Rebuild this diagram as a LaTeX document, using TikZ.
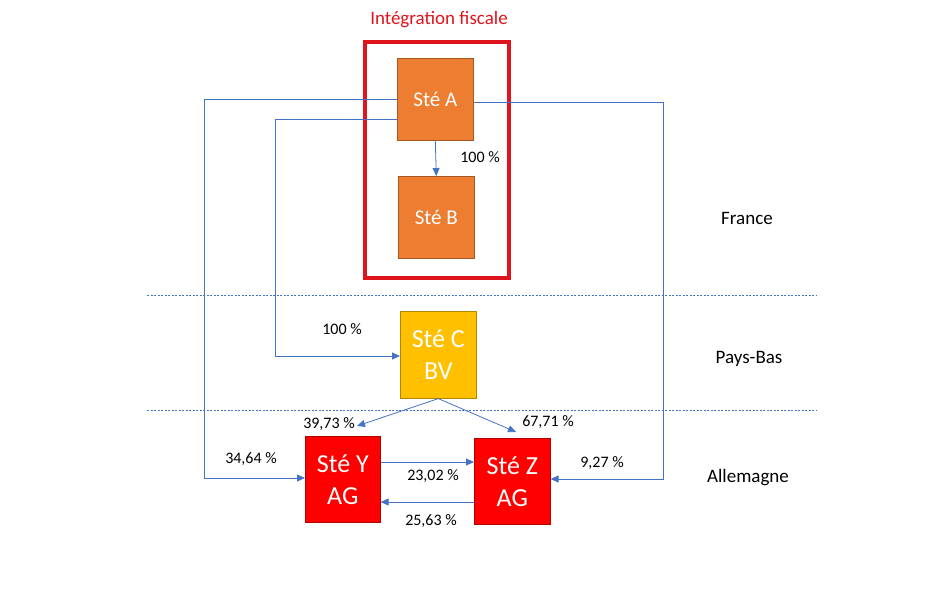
\documentclass[tikz,border=0pt]{standalone}
\usepackage{fontspec}
\setmainfont{Carlito}
\usetikzlibrary{arrows.meta}
\definecolor{orng}{HTML}{ED7D31}
\definecolor{gold}{HTML}{FFC000}
\definecolor{lnk}{HTML}{4472C4}
\definecolor{frame}{HTML}{E0141C}
\begin{document}
\begin{tikzpicture}[x=1pt,y=-1pt,
  box/.style={draw=#1!70!black, line width=0.6pt, fill=#1, text=white, minimum width=76pt, anchor=north west, inner sep=0pt, align=center},
  lk/.style={draw=lnk, line width=0.8pt},
  ar/.style={lk, -{Triangle[length=8pt,width=7pt]}},
  pct/.style={font=\fontsize{16}{18}\selectfont, inner sep=1pt},
  cty/.style={font=\fontsize{19}{22}\selectfont},
  sep/.style={draw=lnk, line width=0.7pt, dash pattern=on 2pt off 1.5pt}]
\useasboundingbox (0,0) rectangle (939,590);
% title and frame
\node[text=frame, font=\fontsize{19}{22}\selectfont] (title) at (439,20) {Intégration fiscale};
\draw[frame, line width=3.5pt] (365,42) rectangle (509,278);
% boxes
\node[box=orng, minimum height=82pt, font=\fontsize{21}{25}\selectfont] (A) at (397,58) {Sté A};
\node[box=orng, minimum height=82pt, font=\fontsize{21}{25}\selectfont] (B) at (398,176) {Sté B};
\node[box=gold, minimum height=87pt, font=\fontsize{26}{32}\selectfont] (C) at (400,311) {Sté C\\BV};
\node[box=red, minimum width=75pt, minimum height=86pt, font=\fontsize{26}{32}\selectfont] (Y) at (305,436) {Sté Y\\AG};
\node[box=red, minimum height=86pt, font=\fontsize{26}{32}\selectfont] (Z) at (474,438) {Sté Z\\AG};
% separators
\coordinate (s1a) at (147,295); \coordinate (s1b) at (816,295);
\coordinate (s2a) at (147,410); \coordinate (s2b) at (816,410);
\draw[sep] (s1a) -- (s1b);
\draw[sep] (s2a) -- (s2b);
% countries
\node[cty] (fr) at (747,218) {France};
\node[cty] (pb) at (749,359) {Pays-Bas};
\node[cty] (de) at (748,478) {Allemagne};
% connectors
\draw[ar] (A.south) -- (B.north);
\node[pct] (l1) at (480,157) {100 \%};
\coordinate (a1) at (204,99); \coordinate (a1b) at (204,478);
\draw[ar] (A.west |- a1) -- (a1) -- (a1b) -- (Y.west |- a1b);
\node[pct] (l2) at (251,459) {34,64 \%};
\coordinate (a2) at (275,119); \coordinate (a2b) at (275,356);
\draw[ar] (A.west |- a2) -- (a2) -- (a2b) -- (C.west |- a2b);
\node[pct] (l3) at (342,329) {100 \%};
\coordinate (a3) at (663,102); \coordinate (a3b) at (663,479);
\draw[ar] (A.east |- a3) -- (a3) -- (a3b) -- (Z.east |- a3b);
\node[pct] (l4) at (602,463) {9,27 \%};
\coordinate (cy) at (357,426); \coordinate (cz) at (516,432);
\draw[ar] (C.south) -- (cy);
\draw[ar] (C.south) -- (cz);
\node[pct] (l5) at (329,424) {39,73 \%};
\node[pct] (l6) at (548,422) {67,71 \%};
\coordinate (yz) at (380,462);
\draw[ar] (Y.east |- yz) -- (Z.west |- yz);
\node[pct] (l7) at (433,476) {23,02 \%};
\coordinate (zy) at (474,502);
\draw[ar] (Z.west |- zy) -- (Y.east |- zy);
\node[pct] (l8) at (431,521) {25,63 \%};
\end{tikzpicture}
\end{document}
